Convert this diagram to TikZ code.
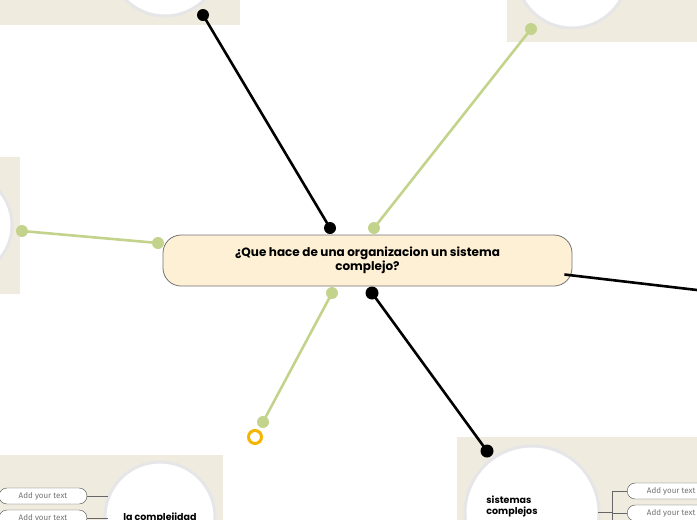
\documentclass[tikz,border=0pt]{standalone}
\usepackage{fontspec}
\setmainfont{Fira Sans}
\newfontfamily\popp{Poppins}
\begin{document}
\begin{tikzpicture}[x=1pt,y=-1pt,
 panel/.style={fill=beige,draw=none},
 bub/.style={circle,fill=white,draw=circ,line width=3pt},
 blk/.style={line width=2.6pt,black},
 grn/.style={line width=2.6pt,leaf},
 pill/.style={draw=black!70,fill=white,rounded corners=8pt,minimum height=16pt,minimum width=88pt,font=\fontsize{8}{9}\selectfont\color{black!55},inner sep=1pt},
 lbl/.style={font=\popp\bfseries\fontsize{9.5}{11}\selectfont,align=left}]
\definecolor{beige}{HTML}{EFEBDF}
\definecolor{circ}{HTML}{E6E6E8}
\definecolor{leaf}{HTML}{C3D38C}
\definecolor{cent}{HTML}{FDF0D5}
\definecolor{org}{HTML}{F4B400}
\useasboundingbox (0,0) rectangle (697,520);
\clip (0,0) rectangle (697,520);
% panels
\fill[panel] (0,0) rectangle (240,25);
\node[bub,minimum size=112pt] (c1) at (165,-40) {};
\fill[panel] (507,0) rectangle (697,42);
\node[bub,minimum size=112pt] (c2) at (572,-28) {};
\fill[panel] (0,157) rectangle (20,294);
\node[bub,minimum size=104pt] (c3) at (-40,225) {};
\fill[panel] (0,455) rectangle (223,520);
\node[bub,minimum size=110pt] (c4) at (160,517) {};
\node[lbl] at (160,518) {la complejidad};
\fill[panel] (457,437) rectangle (697,520);
\node[bub,minimum size=134pt] (c5) at (532,513) {};
\node[lbl] (t5) at (512,506) {sistemas\\complejos};
% pills
\node[pill] (p1) at (43,496) {Add your text};
\node[pill] (p2) at (43,518) {Add your text};
\draw[black!60,line width=1pt] (p1.east) -- (108,496) (p2.east) -- (108,518);
\node[pill,anchor=west] (p3) at (627,491) {Add your text};
\node[pill,anchor=west] (p4) at (627,513) {Add your text};
\draw[black!60,line width=0.8pt] (p3.west) -- (612,491) -- (612,520) (p4.west) -- (612,513) (598,512) -- (612,512);
% centre
\node[draw=black!55,line width=0.8pt,fill=cent,rounded corners=18pt,minimum width=409pt,minimum height=51pt,align=center,font=\popp\bfseries\fontsize{12}{14}\selectfont] (m) at (367.5,260.5) {¿Que hace de una organizacion un sistema\\complejo?};
% connectors
\coordinate (a1) at (203,15); \coordinate (b1) at (330,228);
\draw[blk] (a1) -- (b1); \fill (a1) circle (6); \fill (b1) circle (6);
\coordinate (a2) at (531,29); \coordinate (b2) at (374,228);
\draw[grn] (a2) -- (b2); \fill[leaf] (a2) circle (6); \fill[leaf] (b2) circle (6);
\coordinate (a3) at (22,231); \coordinate (b3) at (158,243);
\draw[grn] (a3) -- (b3); \fill[leaf] (a3) circle (6); \fill[leaf] (b3) circle (6);
\coordinate (a4) at (697,290);
\draw[blk] (m.east) ++(-8,14) -- (a4);
\coordinate (a5) at (332,293); \coordinate (b5) at (263,422);
\draw[grn] (a5) -- (b5); \fill[leaf] (a5) circle (6); \fill[leaf] (b5) circle (6);
\draw[org,line width=3pt] (255,437) circle (6.5);
\coordinate (a6) at (372,293); \coordinate (b6) at (487,451);
\draw[blk] (a6) -- (b6); \fill (a6) circle (6.5); \fill (b6) circle (6.5);
\end{tikzpicture}
\end{document}
